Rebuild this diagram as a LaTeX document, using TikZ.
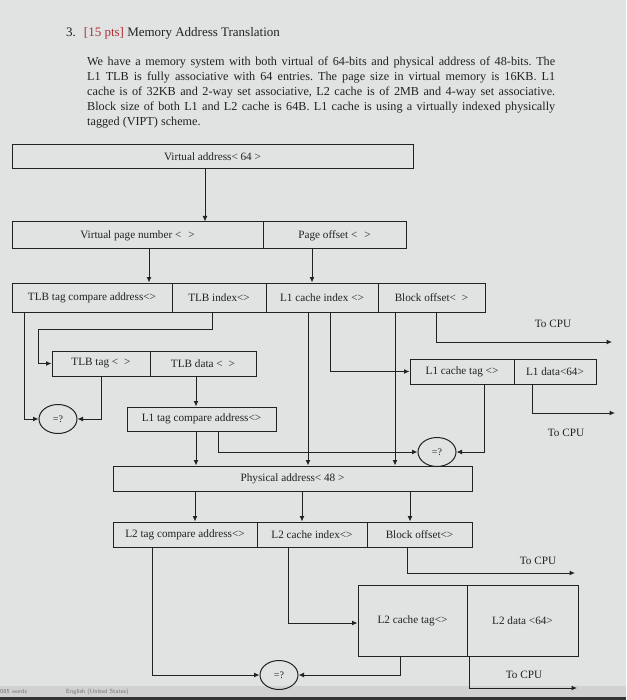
\documentclass[tikz,border=0pt]{standalone}
\usepackage{fontspec}
\setmainfont{Liberation Serif}
\usetikzlibrary{arrows.meta,shapes.geometric}
\definecolor{bg}{HTML}{E0E3E1}
\definecolor{ink}{HTML}{222222}
\definecolor{ptsred}{HTML}{B0303A}
\frenchspacing
\begin{document}
\begin{tikzpicture}[x=1pt,y=-1pt,
  every node/.style={text=ink},
  box/.style={draw=ink, line width=1pt, inner sep=0pt, font=\fontsize{11.2}{12}\selectfont},
  cmp/.style={ellipse, draw=ink, line width=1pt, minimum width=38pt, minimum height=29pt, inner sep=0pt, font=\fontsize{10}{11}\selectfont},
  conn/.style={draw=ink, line width=1pt},
  arr/.style={conn, -{Latex[length=5.5pt,width=5pt]}},
  lbl/.style={inner sep=0pt, font=\fontsize{11.2}{12}\selectfont}
]
\useasboundingbox[fill=bg] (0,0) rectangle (626,700);
% status bar
\fill[fill=black!18] (0,686) rectangle (626,697);
\fill[fill=black!80] (0,697) rectangle (626,700);
\node[inner sep=0pt, anchor=west, text=black!55, font=\fontsize{6}{7}\sffamily] (words) at (0,691.5) {085 words};
\node[inner sep=0pt, anchor=west, text=black!55, font=\fontsize{6}{7}\sffamily] (lang) at (66,691.5) {English (United States)};

% title and text
\node[anchor=base west, inner sep=0pt, font=\fontsize{13}{15}\selectfont] (title) at (66,37)
  {3.\hspace{8pt}{\color{ptsred}[15 pts]} Memory Address Translation};
\node[anchor=north west, inner sep=0pt, text width=468pt, align=justify, font=\fontsize{12.2}{15}\selectfont] (para) at (87,57)
  {\frenchspacing We have a memory system with both virtual of 64-bits and physical address of 48-bits. The\linebreak
   L1 TLB is fully associative with 64 entries. The page size in virtual memory is 16KB. L1\linebreak
   cache is of 32KB and 2-way set associative, L2 cache is of 2MB and 4-way set associative.\linebreak
   Block size of both L1 and L2 cache is 64B. L1 cache is using a virtually indexed physically\linebreak
   tagged (VIPT) scheme.};

% boxes
\node[box, minimum width=401pt, minimum height=24pt] (va) at (212.5,157) {Virtual address< 64 >};
\node[box, minimum width=251pt, minimum height=27pt] (vpn) at (137.5,235.5) {Virtual page number <\hspace{7pt}>};
\node[box, minimum width=143pt, minimum height=27pt] (po) at (334.5,235.5) {Page offset <\hspace{7pt}>};

\node[box, minimum width=160pt, minimum height=29pt] (tlbcmp) at (92,297.5) {TLB tag compare address<>};
\node[box, minimum width=94pt, minimum height=29pt] (tlbidx) at (219,297.5) {TLB index<>};
\node[box, minimum width=112pt, minimum height=29pt] (l1idx) at (322,297.5) {L1 cache index <>};
\node[box, minimum width=107pt, minimum height=29pt] (boff) at (431.5,297.5) {Block offset<\hspace{6pt}>};

\node[box, minimum width=98pt, minimum height=25pt] (tlbtag) at (101,363.5) {TLB tag <\hspace{6pt}>};
\node[box, minimum width=106pt, minimum height=25pt] (tlbdata) at (203,363.5) {TLB data <\hspace{6pt}>};

\node[box, minimum width=104pt, minimum height=25pt] (l1tag) at (462,371.5) {L1 cache tag <>};
\node[box, minimum width=82pt, minimum height=25pt] (l1data) at (555,371.5) {L1 data<64>};

\node[box, minimum width=149pt, minimum height=24pt] (l1cmp) at (201.5,419) {L1 tag compare address<>};

\node[box, minimum width=359pt, minimum height=25pt] (phys) at (292.5,478.5) {Physical address< 48 >};

\node[box, minimum width=144pt, minimum height=25pt] (l2cmp) at (185,534.5) {L2 tag compare address<>};
\node[box, minimum width=110pt, minimum height=25pt] (l2idx) at (312,534.5) {L2 cache index<>};
\node[box, minimum width=105pt, minimum height=25pt] (boff2) at (419.5,534.5) {Block offset<>};

\node[box, minimum width=109pt, minimum height=71pt] (l2tag) at (412.5,620.5) {L2 cache tag<>};
\node[box, minimum width=111pt, minimum height=71pt] (l2data) at (522.5,620.5) {L2 data <64>};

% comparators
\node[cmp] (c1) at (58,419) {=?};
\node[cmp] (c2) at (437,452) {=?};
\node[cmp] (c3) at (279,675) {=?};

% CPU end points and labels
\coordinate (cpu1) at (612,342);
\coordinate (cpu2) at (615,413);
\coordinate (cpu3) at (575,573);
\coordinate (cpu4) at (577,688);
\node[lbl] (t1) at (553,324) {To CPU};
\node[lbl] (t2) at (566,433) {To CPU};
\node[lbl] (t3) at (538,561) {To CPU};
\node[lbl] (t4) at (524,675) {To CPU};

% connectors
\draw[arr] (205,0 |- va.south) -- (205,0 |- vpn.north);
\draw[arr] (149,0 |- vpn.south) -- (149,0 |- tlbcmp.north);
\draw[arr] (312,0 |- po.south) -- (312,0 |- l1idx.north);

\draw[arr] (24,0 |- tlbcmp.south) |- (c1.west);
\draw[arr] (212,0 |- tlbidx.south) -- (212,329) -| (38,0 |- tlbtag.west) -- (tlbtag.west);
\draw[arr] (101,0 |- tlbtag.south) |- (c1.east);
\draw[arr] (196,0 |- tlbdata.south) -- (196,0 |- l1cmp.north);

\draw[arr] (196,0 |- l1cmp.south) -- (196,0 |- phys.north);
\draw[arr] (218,0 |- l1cmp.south) |- (c2.west);
\draw[arr] (308,0 |- l1idx.south) -- (308,0 |- phys.north);
\draw[arr] (330,0 |- l1idx.south) |- (l1tag.west);
\draw[arr] (395,0 |- boff.south) -- (395,0 |- phys.north);
\draw[arr] (436,0 |- boff.south) |- (cpu1);
\draw[arr] (484,0 |- l1tag.south) |- (c2.east);
\draw[arr] (532,0 |- l1data.south) |- (cpu2);

\draw[arr] (195,0 |- phys.south) -- (195,0 |- l2cmp.north);
\draw[arr] (302,0 |- phys.south) -- (302,0 |- l2idx.north);
\draw[arr] (410,0 |- phys.south) -- (410,0 |- boff2.north);

\draw[arr] (152,0 |- l2cmp.south) |- (c3.west);
\draw[arr] (288,0 |- l2idx.south) |- (l2tag.west |- 0,623);
\draw[arr] (407,0 |- boff2.south) |- (cpu3);
\draw[arr] (400,0 |- l2tag.south) |- (c3.east);
\draw[arr] (469,0 |- l2data.south) |- (cpu4);
\end{tikzpicture}
\end{document}
